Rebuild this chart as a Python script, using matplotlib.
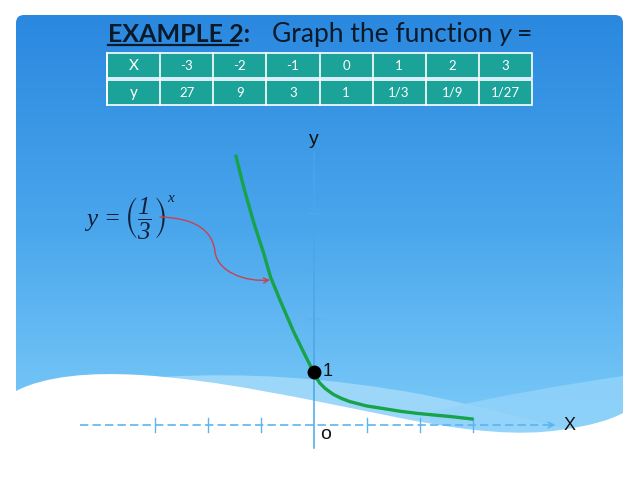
import matplotlib
matplotlib.use('Agg')
import matplotlib.pyplot as plt
import numpy as np
from matplotlib.colors import LinearSegmentedColormap
from matplotlib.patches import FancyBboxPatch, PathPatch, FancyArrowPatch, Rectangle
from matplotlib.path import Path

# Times-like italic math (digits too), big delimiters from stix
plt.rcParams['mathtext.fontset'] = 'custom'
plt.rcParams['mathtext.rm'] = 'Liberation Serif:italic'
plt.rcParams['mathtext.it'] = 'Liberation Serif:italic'
plt.rcParams['mathtext.fallback'] = 'stix'

# table values
x_row = ['X', '-3', '-2', '-1', '0', '1', '2', '3']
y_row = ['y', '27', '9', '3', '1', '1/3', '1/9', '1/27']

# the green curve
curve_x = [-1.47, -1.31, -1.125, -0.94, -0.81, -0.625, -0.375, -0.19, 0.0,
           0.06, 0.12, 0.22, 0.37, 0.53, 0.69, 1.0, 1.32, 1.63, 1.95, 2.26, 2.58, 3.02]
curve_y = [5.10, 4.46, 3.81, 3.24, 2.79, 2.34, 1.76, 1.38, 1.0,
           0.88, 0.79, 0.69, 0.58, 0.50, 0.44, 0.36, 0.31, 0.26, 0.22, 0.19, 0.16, 0.11]

x_ticks = [-3, -2, -1, 1, 2, 3]
y_ticks = [2, 3, 4]

W, H = 638, 478
fig = plt.figure(figsize=(W / 100, H / 100), dpi=100)
rend = fig.canvas.get_renderer()

# background axes in pixel coordinates
bg = fig.add_axes([0, 0, 1, 1])
bg.set_xlim(0, W)
bg.set_ylim(H, 0)
bg.axis('off')

# slide gradient
cmap = LinearSegmentedColormap.from_list('slide', ['#2A88DF', '#4AA6EC', '#7ECDF9'])
grad = np.linspace(0, 1, 256).reshape(-1, 1)
im = bg.imshow(grad, cmap=cmap, extent=[16, 623, 440, 15], aspect='auto', zorder=0)
clip = FancyBboxPatch((16, 15), 607, 425, boxstyle='round,pad=0,rounding_size=8',
                      transform=bg.transData, facecolor='none', edgecolor='none')
bg.add_patch(clip)
im.set_clip_path(clip)

# lighter wave bands
band = Path([(160, 377), (250, 372), (330, 378), (420, 394),
             (480, 406), (530, 420), (575, 432), (575, 478), (160, 478), (160, 377)],
            [Path.MOVETO, Path.CURVE4, Path.CURVE4, Path.CURVE4,
             Path.CURVE4, Path.CURVE4, Path.CURVE4, Path.LINETO, Path.LINETO, Path.CLOSEPOLY])
bg.add_patch(PathPatch(band, facecolor='#9CD7FA', edgecolor='none', zorder=1))
band2 = Path([(430, 412), (500, 395), (570, 384), (623, 376), (623, 478), (430, 478), (430, 412)],
             [Path.MOVETO, Path.CURVE4, Path.CURVE4, Path.CURVE4, Path.LINETO, Path.LINETO,
              Path.CLOSEPOLY])
bg.add_patch(PathPatch(band2, facecolor='#93D4FA', edgecolor='none', zorder=1, alpha=0.8))

# white wave at the bottom
wave = Path([(0, 396), (16, 391),
             (45, 376), (90, 372), (140, 375),
             (220, 380), (300, 398), (400, 418),
             (470, 432), (520, 436), (560, 430),
             (590, 426), (610, 420), (623, 413),
             (640, 405), (640, 478), (0, 478), (0, 396)],
            [Path.MOVETO, Path.LINETO,
             Path.CURVE4, Path.CURVE4, Path.CURVE4,
             Path.CURVE4, Path.CURVE4, Path.CURVE4,
             Path.CURVE4, Path.CURVE4, Path.CURVE4,
             Path.CURVE4, Path.CURVE4, Path.CURVE4,
             Path.LINETO, Path.LINETO, Path.LINETO, Path.CLOSEPOLY])
bg.add_patch(PathPatch(wave, facecolor='white', edgecolor='none', zorder=2))

# title
ink = '#0B1A2A'
bg.text(108, 42, 'EXAMPLE 2:', fontsize=18, fontweight='bold', family='Lato',
        color=ink, va='baseline', ha='left', zorder=5)
bg.plot([108, 238], [44.5, 44.5], color=ink, lw=1.6, zorder=5)
t1 = bg.text(272, 42, 'Graph the function', fontsize=19, family='Lato',
             color=ink, va='baseline', ha='left', zorder=5)
x_end = t1.get_window_extent(rend).x1
t2 = bg.text(x_end + 6, 42, 'y', fontsize=19, family='Lato', style='italic',
             color=ink, va='baseline', ha='left', zorder=5)
x_end = t2.get_window_extent(rend).x1
bg.text(x_end + 6, 42, '=', fontsize=19, family='Lato',
        color=ink, va='baseline', ha='left', zorder=5)

# table
tx0, tx1 = 107.3, 531.7
col_w = (tx1 - tx0) / len(x_row)
rows_y = [(52.7, 78.3), (79.7, 105)]
for (top, bot), row in zip(rows_y, [x_row, y_row]):
    bg.add_patch(Rectangle((tx0, top), tx1 - tx0, bot - top, facecolor='#1BA39A',
                           edgecolor='white', lw=1.2, zorder=4))
    for i, lab in enumerate(row):
        bg.plot([tx0 + i * col_w] * 2, [top, bot], color='white', lw=1.2, zorder=5)
        bg.text(tx0 + (i + 0.5) * col_w, (top + bot) / 2 + 0.5, lab, color='white',
                fontsize=9.5 if i else 11, family='Lato', ha='center', va='center', zorder=6)

# equation and red pointer
eq_col = '#10203A'
eq = bg.text(84, 218, r'$y\,=\left(\dfrac{1}{3}\right)$', fontsize=18,
             color=eq_col, ha='left', va='center', zorder=6)
eq_right = eq.get_window_extent(rend).x1
bg.text(eq_right + 1, 197, r'$x$', fontsize=11, color=eq_col, ha='left', va='center', zorder=6)
ptr = Path([(160, 217), (197, 218), (213, 232), (215, 252),
            (218, 272), (245, 282), (270, 280)],
           [Path.MOVETO, Path.CURVE4, Path.CURVE4, Path.CURVE4,
            Path.CURVE4, Path.CURVE4, Path.CURVE4])
bg.add_patch(FancyArrowPatch(path=ptr, arrowstyle='->', mutation_scale=9,
                             color='#C9424E', lw=1.0, zorder=6))

# graph axes: one unit = 53 px, origin at (313.5, 425)
ax = fig.add_axes([48.5 / W, 0, 530 / W, 371 / H])
ax.set_xlim(-5, 5)
ax.set_ylim(-1, 6)
ax.axis('off')
ax.patch.set_alpha(0)

axis_col = '#5DB4EE'
ax.plot([-4.41, 4.5], [0, 0], color=axis_col, lw=1.2, dashes=[5, 2.5], clip_on=False)
ax.annotate('', xy=(4.62, 0), xytext=(4.4, 0),
            arrowprops=dict(arrowstyle='->', color=axis_col, lw=1.2))
for t in x_ticks:
    ax.plot([t, t], [-0.13, 0.13], color=axis_col, lw=1.0)
ax.plot([0, 0], [-0.43, 5.15], color='#4AA6E6', lw=1.1, clip_on=False)
for t in y_ticks:
    ax.plot([-0.13, 0.13], [t, t], color='#5AAFEA', lw=0.8, alpha=0.6)

ax.plot(curve_x, curve_y, color='#17A34A', lw=2.4, solid_capstyle='butt',
        solid_joinstyle='round', zorder=4)
ax.plot([0], [1], 'o', color='black', markersize=9, zorder=5)

lab_font = 'Liberation Sans'
ax.text(0.18, 1.0, '1', fontsize=13, family=lab_font, color='#111111', ha='left', va='center')
ax.text(0.12, -0.18, 'o', fontsize=14, family=lab_font, color='#111111', ha='left', va='center')
ax.text(4.72, 0.0, 'X', fontsize=13, family=lab_font, color='#111111', ha='left', va='center')
ax.text(0.0, 5.38, 'y', fontsize=14, family=lab_font, color='#111111', ha='center', va='center')

plt.savefig('out.png', dpi=100)
